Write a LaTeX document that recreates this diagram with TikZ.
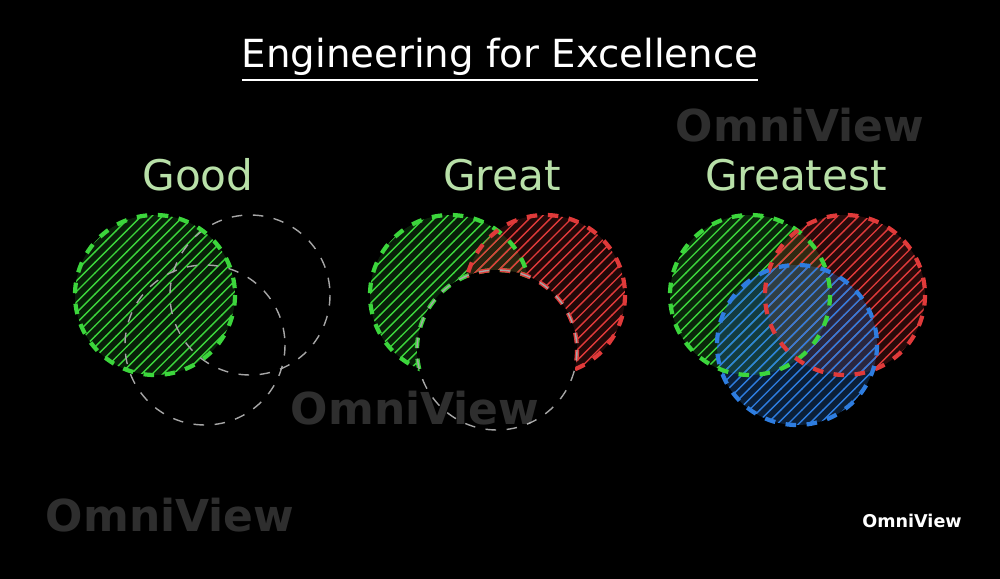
\documentclass[tikz,border=0pt]{standalone}
\usepackage{fontspec}
\setmainfont{DejaVu Sans}
\usetikzlibrary{patterns}
\definecolor{gr}{HTML}{3CD63C}
\definecolor{rd}{HTML}{E03A3A}
\definecolor{bl}{HTML}{2E7DE0}
\definecolor{lab}{HTML}{B8E0A8}
\definecolor{wm}{HTML}{2E2E2E}
\tikzset{
 hatch/.style={pattern=north east lines,pattern color=#1},
 edge/.style={draw=#1,dashed,line width=1.2pt},
 ghost/.style={draw=gray!70,dashed,line width=0.4pt},
 lbl/.style={text=lab,font=\fontsize{12}{14}\selectfont},
 wmk/.style={text=white,text opacity=0.18,font=\bfseries\fontsize{12.5}{14}\selectfont}
}
\begin{document}
\begin{tikzpicture}[x=0.01cm,y=-0.01cm]
\fill[black] (0,0) rectangle (1000,579);
\useasboundingbox (0,0) rectangle (1000,579);
\node[text=white,font=\fontsize{11}{13}\selectfont] (title) at (500,60) {\underline{Engineering for Excellence}};
\node[lbl] (l1) at (198,175) {Good};
\node[lbl] (l2) at (502,175) {Great};
\node[lbl] (l3) at (796,175) {Greatest};
% Good
\fill[gr,opacity=0.15] (155,295) circle (80);
\path[hatch=gr] (155,295) circle (80);
\draw[ghost] (250,295) circle (80);
\draw[ghost] (205,345) circle (80);
\draw[edge=gr] (155,295) circle (80);
% Great
\fill[gr,opacity=0.15] (450,295) circle (80);
\path[hatch=gr] (450,295) circle (80);
\fill[rd,opacity=0.15] (545,295) circle (80);
\path[hatch=rd] (545,295) circle (80);
\draw[edge=gr] (450,295) circle (80);
\draw[edge=rd] (545,295) circle (80);
\fill[black] (497,350) circle (80);
\begin{scope}
\clip (450,295) circle (80);
\draw[edge=gr] (497,350) circle (80);
\end{scope}
\begin{scope}
\clip (545,295) circle (80);
\draw[edge=rd] (497,350) circle (80);
\end{scope}
\draw[ghost] (497,350) circle (80);
% Greatest
\fill[gr,opacity=0.18] (750,295) circle (80);
\path[hatch=gr] (750,295) circle (80);
\fill[rd,opacity=0.18] (845,295) circle (80);
\path[hatch=rd] (845,295) circle (80);
\fill[bl,opacity=0.25] (797,345) circle (80);
\path[hatch=bl] (797,345) circle (80);
\draw[edge=gr] (750,295) circle (80);
\draw[edge=rd] (845,295) circle (80);
\draw[edge=bl] (797,345) circle (80);
% watermarks
\node[wmk] (w1) at (800,125) {OmniView};
\node[wmk] (w2) at (415,408) {OmniView};
\node[wmk] (w3) at (170,515) {OmniView};
\node[text=white,font=\bfseries\fontsize{5}{6}\selectfont] (w4) at (912,521) {OmniView};
\end{tikzpicture}
\end{document}
